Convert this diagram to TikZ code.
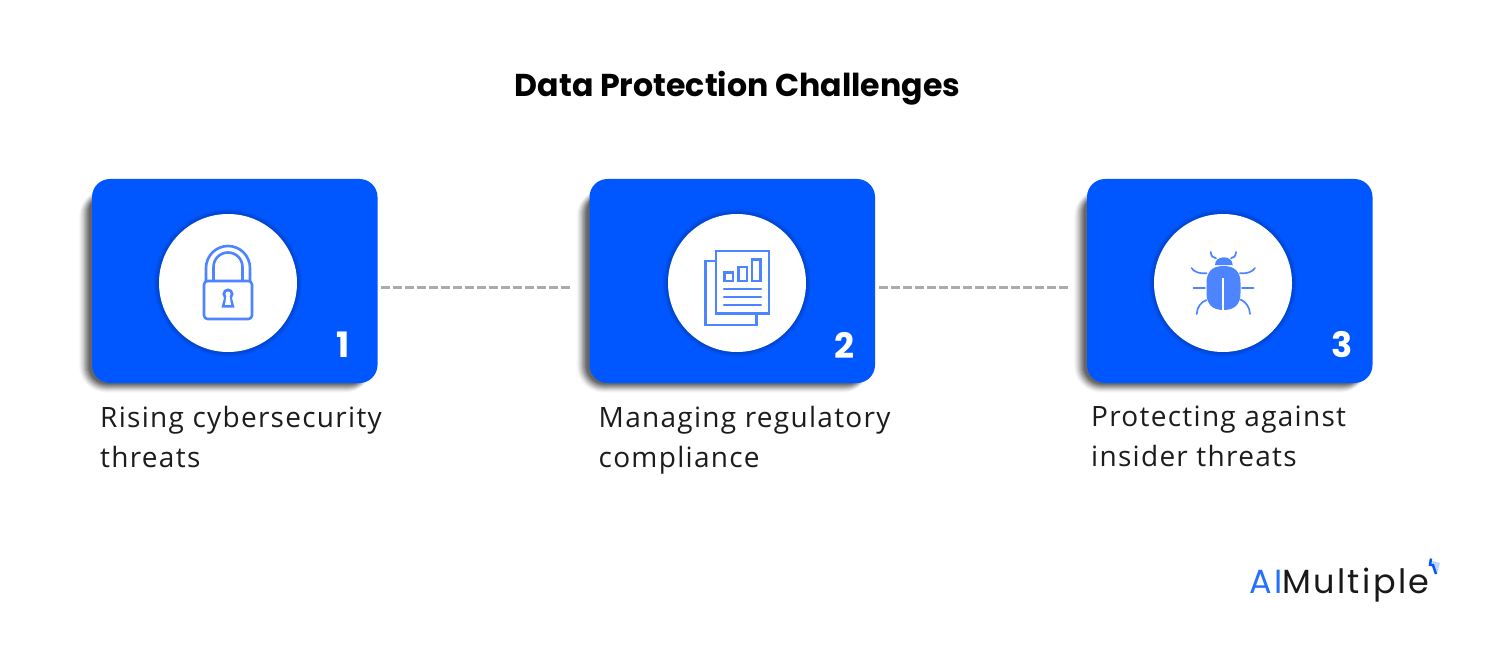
\documentclass[tikz,border=0pt]{standalone}
\usepackage{fontspec}
\setmainfont{Open Sans}
\newfontfamily\popfont{Poppins}
\usetikzlibrary{calc}
\definecolor{cardblue}{HTML}{0057FF}
\definecolor{iconblue}{HTML}{4D84FF}
\definecolor{dashgrey}{HTML}{ABABAB}
\definecolor{labelink}{HTML}{1C1C1C}
\newfontfamily\labfont[LetterSpace=4.6]{Open Sans}
\newfontfamily\logofont[LetterSpace=7]{Poppins}
\tikzset{
  x=1pt,y=-1pt,
  card/.style={fill=cardblue,draw=none,rounded corners=18pt,minimum width=285.5pt,minimum height=204pt,inner sep=0pt,outer sep=0pt},
  disc/.style={circle,fill=white,draw=none,minimum size=138pt,inner sep=0pt,outer sep=0pt},
  num/.style={text=white,font=\popfont\bfseries\fontsize{35}{35}\selectfont,inner sep=0pt},
  lab/.style={anchor=north west,align=left,inner sep=0pt,text=labelink,font=\labfont\fontsize{28}{40}\selectfont},
  conn/.style={draw=dashgrey,line width=3pt,dash pattern=on 9.2pt off 2.8pt},
  ico/.style={draw=iconblue,line width=2.6pt,line join=round,line cap=round},
}
\newcommand{\softshadow}[5]{% x1,y1,x2,y2,radius
  \foreach \k in {0,...,9}{
    \fill[black,opacity={0.03+0.012*(9-\k)},rounded corners={#5+\k}]
      ({#1-3-\k*1.1},{#2+15-\k*0.5}) rectangle ({#3-9+\k*0.4},{#4+1+\k*0.95});
  }
}
\newcommand{\discglow}[2]{%
  \foreach \k in {1,...,5}{
    \fill[black!80!cardblue,opacity=0.05] (#1,#2) circle ({68.5+\k*1.1});
  }
}
\begin{document}
\begin{tikzpicture}
\useasboundingbox (0,0) rectangle (1500,650);
\fill[white] (0,0) rectangle (1500,650);
\softshadow{92}{179}{377.5}{383}{18}
\softshadow{589.5}{179}{875}{383}{18}
\softshadow{1087}{179}{1372.5}{383}{18}

\node[anchor=base,inner sep=0pt,font=\popfont\bfseries\fontsize{31.6}{32}\selectfont] (title) at (737.5,96.5) {Data Protection Challenges};

\node[card] (c1) at (234.75,281) {};
\node[card] (c2) at (732.25,281) {};
\node[card] (c3) at (1229.75,281) {};

\discglow{228}{283}
\discglow{737}{283}
\discglow{1223}{283}
\node[disc] (d1) at (228,283) {};
\node[disc] (d2) at (737,283) {};
\node[disc] (d3) at (1223,283) {};

\draw[conn,shorten <=3.5pt,shorten >=18pt] ([yshift=-6.7pt]c1.east) -- ([yshift=-6.7pt]c2.west);
\draw[conn,shorten <=3.5pt,shorten >=18pt] ([yshift=-6.7pt]c2.east) -- ([yshift=-6.7pt]c3.west);

\node[num] (n1) at (343.5,345) {1};
\node[num] (n2) at (844.5,345) {2};
\node[num] (n3) at (1342.5,345) {3};

\node[lab] (l1) at (100,406) {Rising cybersecurity\\threats};
\node[lab] (l2) at (598.5,406) {Managing regulatory\\compliance};
\node[lab] (l3) at (1091,406) {Protecting against\\insider threats};

% lock
\draw[ico,rounded corners=3.5pt] (204,281) rectangle (252,319);
\draw[ico] (206,281) -- (206,268) arc[start angle=180,end angle=360,radius=22] -- (250,281);
\draw[ico] (213.5,281) -- (213.5,267) arc[start angle=180,end angle=360,radius=14.5] -- (242.5,281);
\fill[iconblue] (228,294) circle (5.6);
\fill[iconblue] (224.5,296) -- (221.5,307.5) -- (234.5,307.5) -- (231.5,296) -- cycle;
\fill[white] (228,294) circle (2.5);
\fill[white] (226.4,296) -- (225,304.8) -- (231,304.8) -- (229.6,296) -- cycle;

% report
\draw[ico,line cap=butt,line join=miter] (716,261) -- (705.5,261) -- (705.5,325) -- (756.5,325) -- (756.5,313.5);
\draw[ico,line join=miter] (716,251) rectangle (769,313.5);
\draw[ico,line join=miter] (724.5,272.5) rectangle (733,281);
\draw[ico,line join=miter] (738.5,267) rectangle (747,281);
\draw[ico,line join=miter] (752,259.5) rectangle (760.5,281);
\foreach \yy in {289,297,305}{\draw[ico] (724,\yy) -- (761,\yy);}

% bug
\fill[iconblue] (1206.5,283) .. controls (1206.5,272) and (1212,266) .. (1223.5,266) .. controls (1235,266) and (1240.5,272) .. (1240.5,283)
  -- (1240.5,293) .. controls (1240.5,304) and (1235,310) .. (1223.5,310) .. controls (1212,310) and (1206.5,304) .. (1206.5,293) -- cycle;
\draw[white,line width=1.6pt] (1223,277.5) -- (1223,311);
\fill[iconblue] (1215,265) .. controls (1215,260) and (1219,257.3) .. (1223.8,257.3) .. controls (1228.5,257.3) and (1232.7,260) .. (1232.7,265) -- cycle;
\begin{scope}[ico,line width=1.7pt]
\draw (1210.7,252) .. controls (1211,256) and (1213,258) .. (1216,258.3);
\draw (1236,252) .. controls (1235.7,256) and (1234,258) .. (1231,258.3);
\draw (1191.5,268) .. controls (1194,272) and (1200,274) .. (1206.5,273.3);
\draw (1255,268) .. controls (1252.5,272) and (1246,274) .. (1240,273.3);
\draw (1193.5,287.7) -- (1205,287.7);
\draw (1242,287.7) -- (1253.5,287.7);
\draw (1196.7,314) .. controls (1197,307) and (1201,302) .. (1206.5,300);
\draw (1250,314) .. controls (1249.7,307) and (1246,302) .. (1240.5,299.5);
\end{scope}

% logo
\node[anchor=base west,inner sep=0pt,font=\logofont\fontsize{33.5}{34}\selectfont] (logo) at (1249,593.5) {\textcolor{cardblue!85!white}{AI}\textcolor{black!90}{Multiple}};
\fill[cardblue!25!white] (1429,560) -- (1440,563) -- (1437,574) -- (1432,567) -- cycle;
\draw[cardblue,line width=2.4pt,line join=miter] (1431,558.5) -- (1430,565) -- (1433,565) -- (1436,574);
\end{tikzpicture}
\end{document}
